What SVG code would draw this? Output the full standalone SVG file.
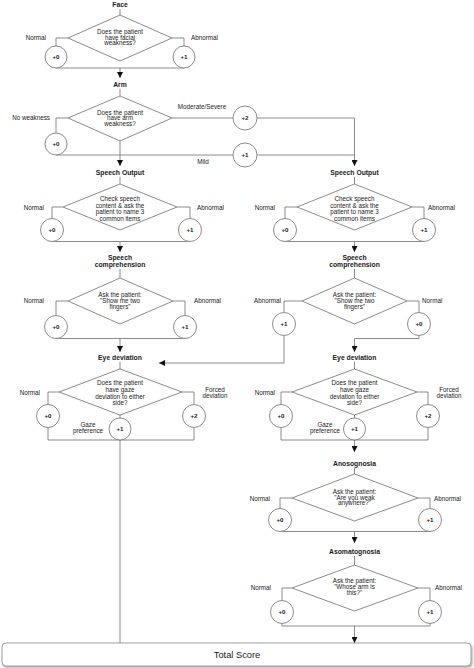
<svg xmlns="http://www.w3.org/2000/svg" width="474" height="668" viewBox="0 0 474 668">
<style>
text{font-family:"Liberation Sans",Arial,sans-serif;fill:#1a1a1a}
.t{font-weight:bold;font-size:6.8px;text-anchor:middle}
.q{font-size:6.3px;text-anchor:middle}
.l{font-size:6.3px}
.e{text-anchor:end}
.m{text-anchor:middle}
.c{font-weight:bold;font-size:6.2px;text-anchor:middle}
.d{fill:#fff;stroke:#6e6e6e;stroke-width:0.8}
.o{fill:#fff;stroke:#6e6e6e;stroke-width:0.8}
.w{fill:none;stroke:#6e6e6e;stroke-width:0.8}
.a{fill:none;stroke:#6e6e6e;stroke-width:0.8;marker-end:url(#ah)}
</style>
<defs>
<marker id="ah" markerUnits="userSpaceOnUse" markerWidth="6" markerHeight="6" refX="6" refY="3" orient="auto">
<path d="M0,0 L6,3 L0,6 z" fill="#111"/>
</marker>
<clipPath id="clipL"><rect x="60" y="185" width="120" height="36"/></clipPath>
<clipPath id="clipR"><rect x="295" y="185" width="120" height="36"/></clipPath>
<filter id="sh" x="-5%" y="-30%" width="110%" height="170%"><feDropShadow dx="1" dy="1.5" stdDeviation="0.8" flood-color="#000" flood-opacity="0.35"/></filter>
</defs>

<g id="connectors">
<path class="w" d="M120,9 V15"/>
<path class="w" d="M68,38 H56 V46 M172,38 H184 V46 M56,68 H184"/>
<path class="a" d="M120,68 V78"/>
<path class="w" d="M120,89 V96"/>
<path class="w" d="M68,118 H56 V133"/>
<path class="w" d="M172,118 H233 M257,118 H354.5"/>
<path class="w" d="M56,155 H233 M257,155 H354.5"/>
<path class="a" d="M354.5,118 V166"/>
<path class="a" d="M120,141 V166"/>
<path class="w" d="M120,177 V184"/>
<path class="w" d="M63,207 H52 V218.5 M177,207 H190 V218.5 M52,241.5 H190"/>
<path class="a" d="M120,241.5 V252"/>
<path class="w" d="M120,269 V278"/>
<path class="w" d="M68,301 H56 V315.5 M173,301 H185 V315.5 M56,338.5 H185"/>
<path class="a" d="M120,338.5 V352"/>
<path class="w" d="M120,362 V369"/>
<path class="w" d="M59,392 H48 V404.5 M182,392 H194 V404.5 M48,427.5 V440 H194 V427.5 M120,415 V418"/>
<path class="w" d="M120,440 V643"/>
<path class="w" d="M354.5,177 V184"/>
<path class="w" d="M297,207 H285 V218.5 M412,207 H424 V218.5 M285,241.5 H424"/>
<path class="a" d="M354.5,241.5 V252"/>
<path class="w" d="M354.5,269 V278"/>
<path class="w" d="M302,301 H284 V312.5 M407,301 H419 V312.5"/>
<path class="a" d="M284,335.5 V363 H159"/>
<path class="w" d="M419,335.5 V338.5 H354.5"/>
<path class="a" d="M354.5,338.5 V352"/>
<path class="w" d="M354.5,362 V369"/>
<path class="w" d="M292,392 H281 V404.5 M417,392 H428 V404.5 M281,427.5 V440 H428 V427.5 M354.5,415 V418"/>
<path class="a" d="M354.5,440 V452"/>
<path class="w" d="M354.5,468 V474"/>
<path class="w" d="M292,498 H280 V508.5 M418,498 H430 V508.5 M280,531.5 H430"/>
<path class="a" d="M354.5,531.5 V543"/>
<path class="w" d="M354.5,556 V565"/>
<path class="w" d="M292,588 H282 V600.5 M418,588 H430 V600.5 M282,623.5 V626 H430 V623.5"/>
<path class="a" d="M354.5,626 V643"/>
</g>

<g id="edge-labels">
<text class="l e" x="46" y="40">Normal</text>
<text class="l" x="191" y="40">Abnormal</text>
<text class="l e" x="50" y="120">No weakness</text>
<text class="l m" x="202" y="109">Moderate/Severe</text>
<text class="l m" x="203" y="164">Mild</text>
<text class="l e" x="44" y="210">Normal</text>
<text class="l" x="197" y="210">Abnormal</text>
<text class="l e" x="44" y="303">Normal</text>
<text class="l" x="194" y="303">Abnormal</text>
<text class="l e" x="40" y="394.5">Normal</text>
<text class="l m" x="215" y="391.5">Forced</text>
<text class="l m" x="215" y="397.8">deviation</text>
<text class="l m" x="88" y="427">Gaze</text>
<text class="l m" x="88" y="433">preference</text>
<text class="l e" x="275" y="210">Normal</text>
<text class="l" x="428" y="210">Abnormal</text>
<text class="l e" x="281" y="303">Abnormal</text>
<text class="l" x="422" y="303">Normal</text>
<text class="l e" x="275" y="394.5">Normal</text>
<text class="l m" x="449" y="391.5">Forced</text>
<text class="l m" x="449" y="397.8">deviation</text>
<text class="l m" x="325" y="427">Gaze</text>
<text class="l m" x="325" y="433">preference</text>
<text class="l e" x="270" y="501">Normal</text>
<text class="l" x="434" y="501">Abnormal</text>
<text class="l e" x="271" y="590">Normal</text>
<text class="l" x="435" y="590">Abnormal</text>
</g>

<g id="face">
<text class="t" x="120" y="6.5">Face</text>
<polygon class="d" points="120,15 172,38 120,61 68,38"/>
<text class="q" x="120" y="33.8">Does the patient</text>
<text class="q" x="120" y="39.8">have facial</text>
<text class="q" x="120" y="45.4">weakness?</text>
</g>
<g id="face-0"><circle class="o" cx="56" cy="57" r="11"/><text class="c" x="56" y="59">+0</text></g>
<g id="face-1"><circle class="o" cx="184" cy="57" r="11"/><text class="c" x="184" y="59">+1</text></g>

<g id="arm">
<text class="t" x="120" y="86.5">Arm</text>
<polygon class="d" points="120,96 172,118 120,141 68,118"/>
<text class="q" x="120" y="114.8">Does the patient</text>
<text class="q" x="120" y="120.4">have arm</text>
<text class="q" x="120" y="126.1">weakness?</text>
</g>
<g id="arm-0"><circle class="o" cx="56" cy="144" r="11"/><text class="c" x="56" y="146">+0</text></g>
<g id="arm-2"><circle class="o" cx="245" cy="118" r="12"/><text class="c" x="245" y="120">+2</text></g>
<g id="arm-1"><circle class="o" cx="245" cy="155" r="12"/><text class="c" x="245" y="157">+1</text></g>

<g id="speech-output-left">
<text class="t" x="120" y="175">Speech Output</text>
<polygon class="d" points="120,184 177,207 120,230 63,207"/>
<g clip-path="url(#clipL)">
<text class="q" x="120" y="201.4">Check speech</text>
<text class="q" x="120" y="207.8">content &amp; ask the</text>
<text class="q" x="120" y="214.4">patient to name 3</text>
<text class="q" x="120" y="221.4">common items</text>
</g>
</g>
<g id="so-left-0"><circle class="o" cx="52" cy="230" r="11.5"/><text class="c" x="52" y="232">+0</text></g>
<g id="so-left-1"><circle class="o" cx="190" cy="230" r="11.5"/><text class="c" x="190" y="232">+1</text></g>

<g id="speech-comp-left">
<text class="t" x="120" y="259.5">Speech</text>
<text class="t" x="120" y="266.5">comprehension</text>
<polygon class="d" points="120,278 173,301 120,324 68,301"/>
<text class="q" x="120" y="297.1">Ask the patient:</text>
<text class="q" x="120" y="303.1">"Show me two</text>
<text class="q" x="120" y="309.4">fingers"</text>
</g>
<g id="sc-left-0"><circle class="o" cx="56" cy="327" r="11.5"/><text class="c" x="56" y="329">+0</text></g>
<g id="sc-left-1"><circle class="o" cx="185" cy="327" r="11.5"/><text class="c" x="185" y="329">+1</text></g>

<g id="eye-left">
<text class="t" x="120" y="359.5">Eye deviation</text>
<polygon class="d" points="120,369 182,392 120,415 59,392"/>
<text class="q" x="120" y="385.4">Does the patient</text>
<text class="q" x="120" y="392.1">have gaze</text>
<text class="q" x="120" y="398.8">deviation to either</text>
<text class="q" x="120" y="405.4">side?</text>
</g>
<g id="eye-left-0"><circle class="o" cx="48" cy="416" r="11.5"/><text class="c" x="48" y="418">+0</text></g>
<g id="eye-left-1"><circle class="o" cx="120" cy="429" r="11"/><text class="c" x="120" y="431">+1</text></g>
<g id="eye-left-2"><circle class="o" cx="194" cy="416" r="11.5"/><text class="c" x="194" y="418">+2</text></g>

<g id="speech-output-right">
<text class="t" x="354.5" y="175">Speech Output</text>
<polygon class="d" points="354.5,184 412,207 354.5,230 297,207"/>
<g clip-path="url(#clipR)">
<text class="q" x="354.5" y="201.4">Check speech</text>
<text class="q" x="354.5" y="207.8">content &amp; ask the</text>
<text class="q" x="354.5" y="214.4">patient to name 3</text>
<text class="q" x="354.5" y="221.4">common items</text>
</g>
</g>
<g id="so-right-0"><circle class="o" cx="285" cy="230" r="11.5"/><text class="c" x="285" y="232">+0</text></g>
<g id="so-right-1"><circle class="o" cx="424" cy="230" r="11.5"/><text class="c" x="424" y="232">+1</text></g>

<g id="speech-comp-right">
<text class="t" x="354.5" y="259.5">Speech</text>
<text class="t" x="354.5" y="266.5">comprehension</text>
<polygon class="d" points="354.5,278 407,301 354.5,324 302,301"/>
<text class="q" x="354.5" y="297.1">Ask the patient:</text>
<text class="q" x="354.5" y="303.1">"Show me two</text>
<text class="q" x="354.5" y="309.4">fingers"</text>
</g>
<g id="sc-right-1"><circle class="o" cx="284" cy="324" r="11.5"/><text class="c" x="284" y="326">+1</text></g>
<g id="sc-right-0"><circle class="o" cx="419" cy="324" r="11.5"/><text class="c" x="419" y="326">+0</text></g>

<g id="eye-right">
<text class="t" x="354.5" y="359.5">Eye deviation</text>
<polygon class="d" points="354.5,369 417,392 354.5,415 292,392"/>
<text class="q" x="354.5" y="385.4">Does the patient</text>
<text class="q" x="354.5" y="392.1">have gaze</text>
<text class="q" x="354.5" y="398.8">deviation to either</text>
<text class="q" x="354.5" y="405.4">side?</text>
</g>
<g id="eye-right-0"><circle class="o" cx="281" cy="416" r="11.5"/><text class="c" x="281" y="418">+0</text></g>
<g id="eye-right-1"><circle class="o" cx="354.5" cy="429" r="11"/><text class="c" x="354.5" y="431">+1</text></g>
<g id="eye-right-2"><circle class="o" cx="428" cy="416" r="11.5"/><text class="c" x="428" y="418">+2</text></g>

<g id="anosognosia">
<text class="t" x="354.5" y="465.5">Anosognosia</text>
<polygon class="d" points="354.5,474 418,498 354.5,521 292,498"/>
<text class="q" x="354.5" y="493.8">Ask the patient:</text>
<text class="q" x="354.5" y="499.8">"Are you weak</text>
<text class="q" x="354.5" y="505.4">anywhere?"</text>
</g>
<g id="ano-0"><circle class="o" cx="280" cy="520" r="11.5"/><text class="c" x="280" y="522">+0</text></g>
<g id="ano-1"><circle class="o" cx="430" cy="520" r="11.5"/><text class="c" x="430" y="522">+1</text></g>

<g id="asomatognosia">
<text class="t" x="354.5" y="553.5">Asomatognosia</text>
<polygon class="d" points="354.5,565 418,588 354.5,611 292,588"/>
<text class="q" x="354.5" y="583.1">Ask the patient:</text>
<text class="q" x="354.5" y="589.1">"Whose arm is</text>
<text class="q" x="354.5" y="595.1">this?"</text>
</g>
<g id="aso-0"><circle class="o" cx="282" cy="612" r="11.5"/><text class="c" x="282" y="614">+0</text></g>
<g id="aso-1"><circle class="o" cx="430" cy="612" r="11.5"/><text class="c" x="430" y="614">+1</text></g>

<g id="total-score">
<rect x="2" y="643" width="469" height="23" rx="4" fill="#fff" stroke="#888" stroke-width="0.8" filter="url(#sh)"/>
<text x="237" y="658" font-size="9.3" text-anchor="middle">Total Score</text>
</g>
</svg>
